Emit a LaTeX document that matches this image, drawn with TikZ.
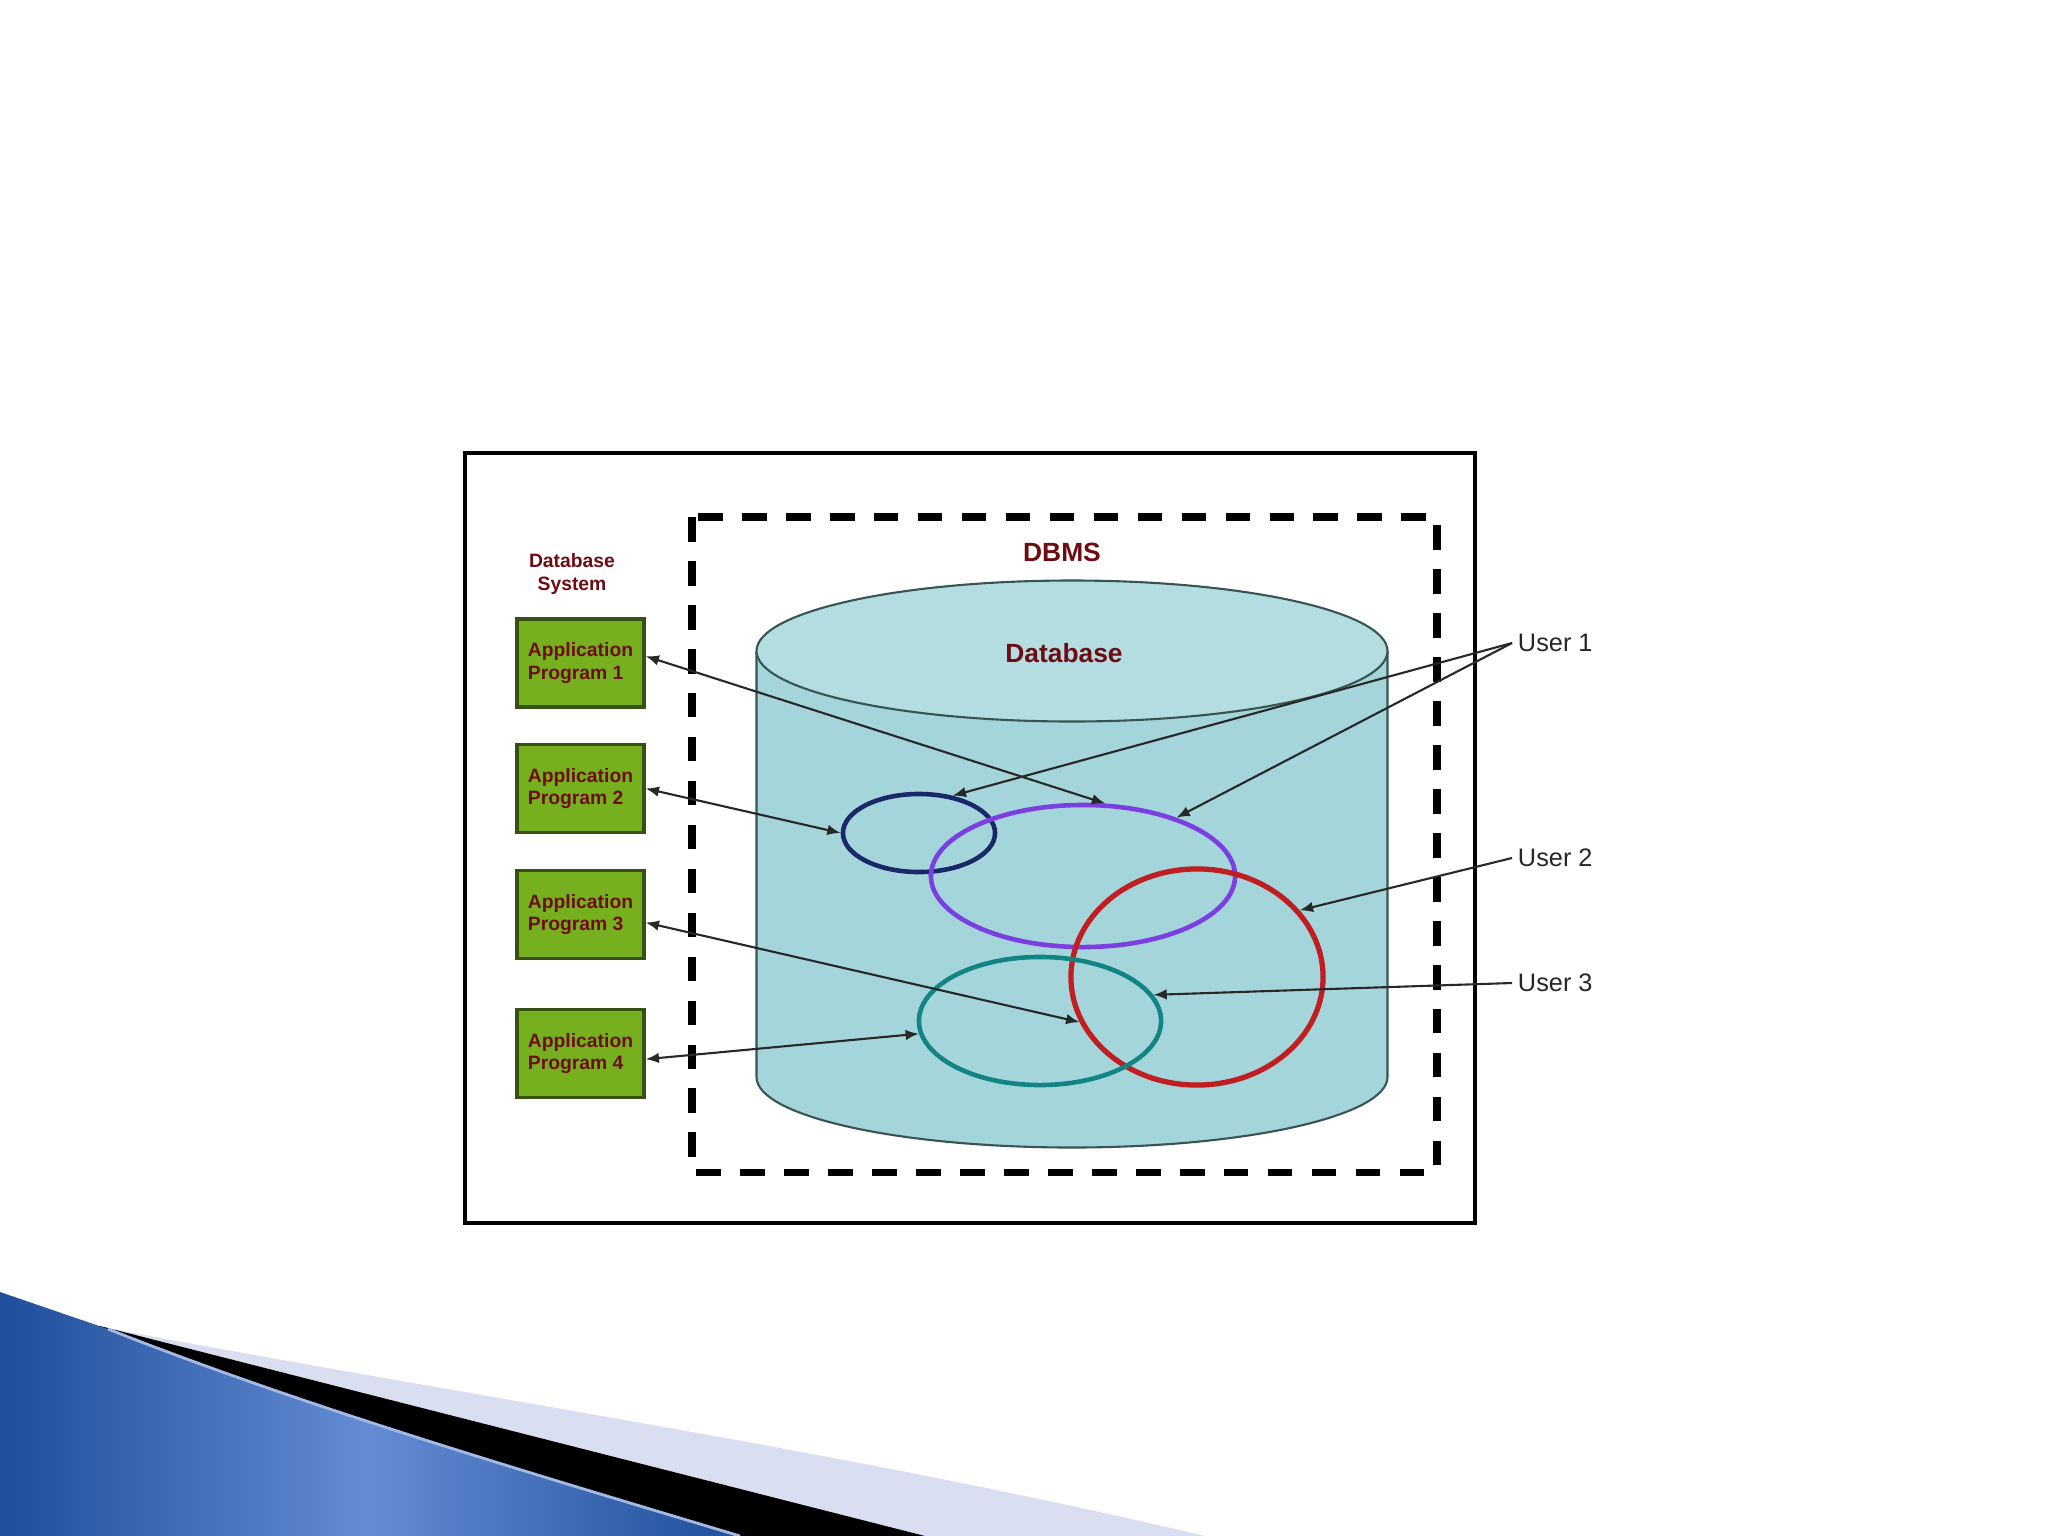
\documentclass[tikz,border=0pt]{standalone}
\usepackage{fontspec}
\setmainfont{Liberation Sans}
\usepackage{tikz}
\usetikzlibrary{arrows.meta}
\usetikzlibrary{shapes.geometric}
\definecolor{txtred}{RGB}{110,12,20}
\definecolor{appgreen}{RGB}{118,176,30}
\definecolor{appedge}{RGB}{55,80,20}
\definecolor{cylBody}{RGB}{164,213,218}
\definecolor{cylTop}{RGB}{180,221,225}
\definecolor{cylEdge}{RGB}{55,85,85}
\definecolor{ovNavy}{RGB}{25,40,105}
\definecolor{ovViolet}{RGB}{122,62,225}
\definecolor{ovRed}{RGB}{192,30,32}
\definecolor{ovTeal}{RGB}{18,132,132}
\definecolor{linkgray}{RGB}{40,40,40}
\definecolor{lavender}{RGB}{217,222,240}
\definecolor{blueDark}{RGB}{32,78,155}
\definecolor{blueLight}{RGB}{100,140,212}
\tikzset{
  appbox/.style={draw=appedge, fill=appgreen, line width=0.9pt,
    minimum width=1.27cm, minimum height=0.88cm, inner sep=0pt,
    align=left, text=txtred, font=\fontsize{5.5}{6.4}\selectfont\bfseries},
  oval/.style={ellipse, draw=#1, line width=1.3pt, inner sep=0pt},
  link/.style={draw=linkgray, line width=0.6pt},
  ulabel/.style={anchor=west, inner sep=1.5pt, text=black!85,
    font=\fontsize{7.2}{8}\selectfont},
  title/.style={text=txtred, font=\fontsize{7.5}{9}\selectfont\bfseries}
}

\begin{document}
\begin{tikzpicture}[
% pixel grid of the slide, y pointing down
x=0.01cm, y=-0.01cm,
>={Latex[length=3.8pt,width=3pt]}]

\useasboundingbox (0,0) rectangle (2048,1536);

% slide corner decoration
\fill[lavender] (118,1330) .. controls (480,1398) and (850,1452) .. (1205,1536) -- (0,1536) -- cycle;
\fill[black] (100,1326) -- (925,1536) -- (0,1536) -- cycle;
\shade[left color=blueDark, right color=blueDark, middle color=blueLight]
  (0,1292) -- (108,1329) .. controls (300,1405) and (520,1470) .. (740,1536) -- (0,1536) -- cycle;
\draw[blueLight!60!white, line width=0.8pt] (108,1329) .. controls (300,1405) and (520,1470) .. (740,1536);

% frames
\draw[line width=1.3pt] (465,453) rectangle (1475,1223);
\draw[line width=2pt, dash pattern=on 7pt off 5.5pt] (692,517) rectangle (1437,1172);

% database cylinder
\pgfmathsetmacro\cx{1072}
\pgfmathsetmacro\rx{315.5}
\pgfmathsetmacro\ry{70.5}
\filldraw[draw=cylEdge, fill=cylBody, line width=0.6pt]
  (\cx-\rx,651) -- (\cx-\rx,1077) arc[start angle=180, end angle=0, x radius=\rx, y radius=\ry] -- (\cx+\rx,651);
\filldraw[draw=cylEdge, fill=cylTop, line width=0.6pt] (\cx,651) ellipse[x radius=\rx, y radius=\ry];

% labels
\node[title, align=center, font=\fontsize{5.5}{6.8}\selectfont\bfseries] (dbsys) at (572,574) {Database\\System};
\node[title] (dbms) at (1062,552) {DBMS};
\node[title] (db) at (1064,653) {Database};

% user views
\node[oval=ovNavy, minimum width=1.52cm, minimum height=0.78cm] (ovalBlue) at (919,833) {};
\node[oval=ovViolet, minimum width=3.04cm, minimum height=1.42cm] (ovalViolet) at (1083,876) {};
\node[oval=ovRed, line width=1.5pt, minimum width=2.52cm, minimum height=2.16cm] (ovalRed) at (1197,977) {};
\node[oval=ovTeal, minimum width=2.42cm, minimum height=1.28cm] (ovalTeal) at (1040,1021) {};

% application programs and users
\foreach \i/\y in {1/663,2/788.5,3/914.5,4/1053.5} {
  \node[appbox] (app\i) at (580.5,\y) {Application\\Program \i};
}
\foreach \i/\y in {1/643,2/858,3/983} {
  \node[ulabel] (user\i) at (1512,\y) {User \i};
}

\draw[link,<->] (app1.6) -- (ovalViolet.73);
\draw[link,<->] (app2.east) -- (ovalBlue.west);
\draw[link,<->] (app3.-7) -- (ovalRed.201);
\draw[link,<->] (app4.-5) -- (ovalTeal.186);
\draw[link,->] (user1.west) -- (ovalBlue.48);
\draw[link,->] (user1.west) -- (ovalViolet.32);
\draw[link,->] (user2.west) -- (ovalRed.33);
\draw[link,->] (user3.west) -- (ovalTeal.13);
\end{tikzpicture}
\end{document}
